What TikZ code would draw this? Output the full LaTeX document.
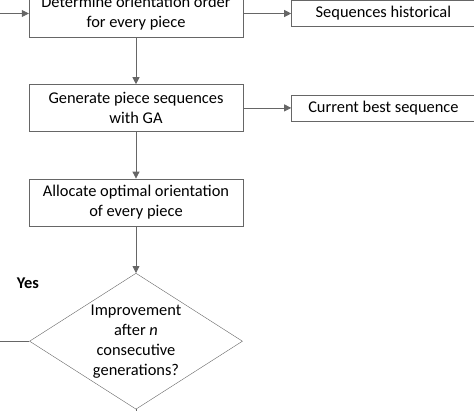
\documentclass[tikz,border=0pt]{standalone}
\usepackage{fontspec}
\setmainfont{Carlito}
\usepackage{tikz}
\usetikzlibrary{positioning}
\usetikzlibrary{shapes.geometric}
\usetikzlibrary{arrows.meta}

\begin{document}
\begin{tikzpicture}[
        font=\fontsize{16.4}{20}\selectfont,
        node distance={47pt and 48pt},
        step box/.style={rectangle, draw=gray!80!black, align=center, minimum width=214pt, minimum height=47pt, inner sep=2pt},
        out box/.style={rectangle, draw=gray!80!black, minimum width=184pt, minimum height=26pt, inner sep=2pt},
        check/.style={diamond, draw=gray!80!black, align=center, aspect=1.57, minimum width=213pt, minimum height=136pt, inner sep=0pt},
        flow/.style={-{Triangle[length=7pt,width=7pt]}, gray!80!black, line width=0.8pt},
        plain/.style={-, gray!80!black, line width=0.8pt}
    ]
        \clip (0,0) rectangle (474pt,-410pt);

        \node[step box](det) at (136pt,-13.5pt){Determine orientation order\\for every piece};
            \node[step box](gen)[below=of det]{Generate piece sequences\\with GA};
                \node[step box](alloc)[below=of gen]{Allocate optimal orientation\\of every piece};
                    \node[check](impr)[below=of alloc]{Improvement\\after \textit{n}\\consecutive\\generations?};
            \node[out box](hist)[right=of det]{Sequences historical};
            \node[out box](best)[right=of gen]{Current best sequence};

        \node[font=\fontsize{16.4}{20}\selectfont\bfseries](yes) at (28pt,-283pt){Yes};

        \coordinate (loopin) at (0,-13.5pt);
        \coordinate (loopout) at (impr.west -| 0,0);
        \coordinate (down) at (impr.south |- 0,-420pt);

        \draw[flow] (loopin) -- (det.west);
        \draw[flow] (det.east) -- (hist.west);
        \draw[flow] (det.south) -- (gen.north);
        \draw[flow] (gen.east) -- (best.west);
        \draw[flow] (gen.south) -- (alloc.north);
        \draw[flow] (alloc.south) -- (impr.north);
        \draw[plain] (impr.west) -- (loopout);
        \draw[plain] (impr.south) -- (down);
    \end{tikzpicture}
\end{document}
